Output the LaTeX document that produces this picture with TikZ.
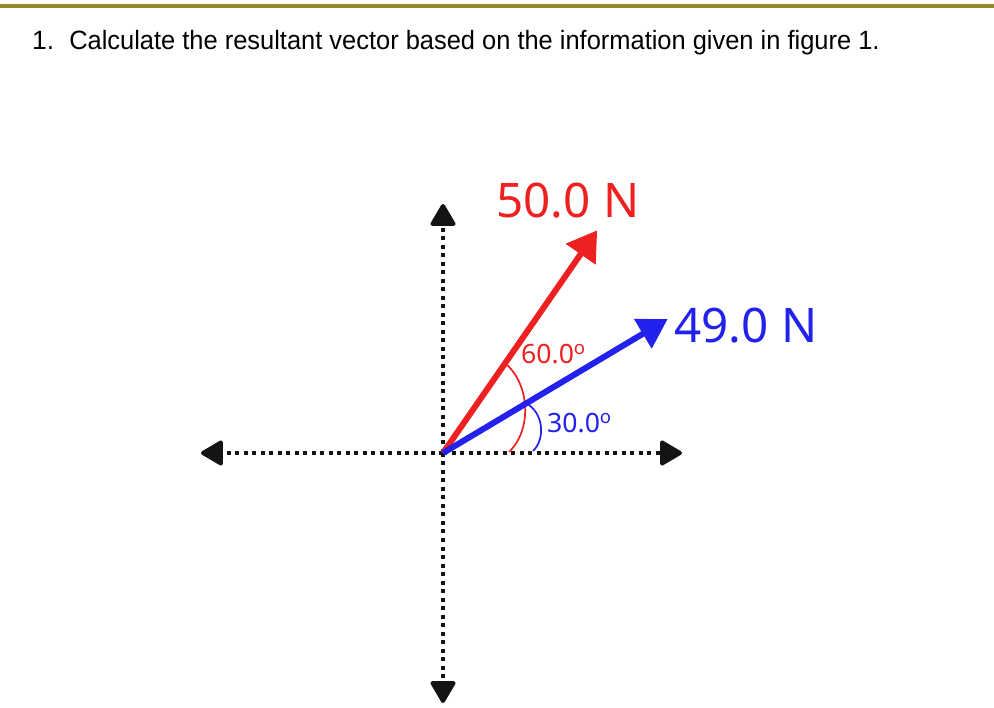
\documentclass[tikz,border=0pt]{standalone}
\usepackage{xcolor}
\usepackage{graphicx}
\usepackage{fontspec}
\setmainfont{Liberation Sans}
\newfontfamily\labelfont{Noto Sans}
\usetikzlibrary{arrows.meta}
\definecolor{rulecol}{RGB}{150,136,36}
\definecolor{vecred}{RGB}{238,32,32}
\definecolor{vecblue}{RGB}{34,34,236}
\definecolor{axiscol}{RGB}{20,20,20}
\tikzset{
	axis/.style={axiscol, line width=4pt, dash pattern=on 4pt off 4.5pt, -{Triangle[length=24pt, width=27pt, round]}},
	redvec/.style={vecred, line width=6pt, -{Triangle[length=29pt, width=35pt]}, shorten >=-2pt},
	bluevec/.style={vecblue, line width=6pt, -{Triangle[length=29pt, width=33pt]}, shorten >=-2pt},
	biglabel/.style={inner sep=0pt, font=\labelfont\fontsize{47.6}{50}\selectfont},
	anglabel/.style={inner sep=0pt, font=\labelfont\fontsize{26.6}{28}\selectfont}
}
\begin{document}
\begin{tikzpicture}[x=1pt, y=-1pt]
			\useasboundingbox (0,0) rectangle (994,708);
			\draw[rulecol, line width=4pt] (0,6.5) -- (994,6.5);
			\node[anchor=base west, inner sep=0pt, font=\fontsize{26.5}{28}\selectfont] (title) at (32,50) {1.\hspace{15pt}\scalebox{0.96}[1]{Calculate the resultant vector based on the information given in figure 1.}};
			\coordinate (O) at (443,453);
			\coordinate (up) at (443,204);
			\coordinate (down) at (443,703);
			\coordinate (left) at (201,453);
			\coordinate (right) at (682,453);
			\draw[axis] (O) -- (up);
			\draw[axis] (O) -- (down);
			\draw[axis] (O) -- (left);
			\draw[axis] (O) -- (right);
			\coordinate (F1) at (596,232);
			\coordinate (F2) at (666,320);
			\draw[vecred, line width=1.7pt] (509,452) .. controls (532,430) and (530,385) .. (506,364);
			\draw[vecblue, line width=1.7pt] (533,451) .. controls (545,440) and (545,412) .. (524,402);
			\draw[redvec] (O) -- (F1);
			\draw[bluevec] (O) -- (F2);
			\node[biglabel, text=vecred] (F1label) at (568,201) {50.0 N};
			\node[biglabel, text=vecblue] (F2label) at (746,326) {49.0 N};
			\node[anglabel, text=vecred, anchor=base west] (ang1) at (521,364) {60.0\textsuperscript{o}};
			\node[anglabel, text=vecblue, anchor=base west] (ang2) at (547,433) {30.0\textsuperscript{o}};
\end{tikzpicture}
\end{document}
